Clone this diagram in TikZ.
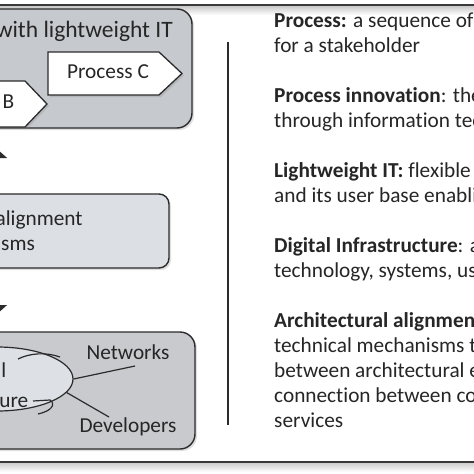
\documentclass[tikz,border=0pt]{standalone}
\usepackage{fontspec}
\setmainfont{Carlito}[Ligatures=NoCommon]
\usetikzlibrary{shapes.geometric,shadows,arrows.meta}
\definecolor{ink}{HTML}{262626}
\definecolor{edge}{HTML}{2B2B2B}
\definecolor{boxgray}{HTML}{C6C9CD}
\definecolor{boxlight}{HTML}{DCDFE4}
\definecolor{boxbottom}{HTML}{C8CACD}
\definecolor{ellfill}{HTML}{DDE0E5}
\definecolor{rule}{HTML}{3A3A3A}
\tikzset{
  base/.style={font=\fontsize{21.3}{25}\selectfont, text=ink, inner sep=0pt},
  groupbox/.style={draw=edge, line width=1.4pt, rounded corners=15pt,
     drop shadow={shadow xshift=2pt, shadow yshift=-2pt, opacity=0.25}},
  procbox/.style={draw=edge, line width=1.3pt, fill=white,
     drop shadow={shadow xshift=2pt, shadow yshift=-2pt, opacity=0.25}},
  defline/.style={base, anchor=base west},
  linkline/.style={draw=edge, line width=1.2pt},
  flowarrow/.style={draw=edge, line width=1.5pt, -{Triangle[width=20pt,length=9pt]}}
}
\begin{document}
\begin{tikzpicture}[x=1pt,y=-1pt]
\useasboundingbox (0,0) rectangle (474,474);
\clip (0,0) rectangle (474,474);
\fill[white] (0,0) rectangle (474,474);
% rules
\shade[top color=black!22, bottom color=white] (0,5.5) rectangle (474,15);
\draw[rule, line width=2.2pt] (0,4.6) -- (474,4.6);
\shade[top color=black!18, bottom color=white] (0,463) rectangle (474,472);
\draw[rule, line width=2.2pt] (0,462) -- (474,462);
% top group
\draw[groupbox, fill=boxgray] (-100,9) rectangle (192,128);
\node[base, font=\fontsize{23.5}{27}\selectfont, anchor=base east] (title) at (173,37) {with lightweight IT};
\draw[procbox] (48,52) -- (159,52) -- (182,73.5) -- (159,95) -- (48,95) -- cycle;
\node[base, anchor=base] (pc) at (108,78) {Process C};
\draw[procbox] (-60,81) -- (25,81) -- (47,104) -- (25,127) -- (-60,127) -- cycle;
\node[base, anchor=base west] (pb) at (2.5,108) {B};
% middle group
\draw[groupbox, rounded corners=10pt, fill=boxlight] (-100,194) rectangle (169,268);
\node[base, anchor=base] (mid1) at (-19,225) {Architectural alignment};
\node[base, anchor=base] (mid2) at (-19,250) {mechanisms};
% arrows
\coordinate (upstart) at (-3,194);
\coordinate (uptip) at (-3,149);
\coordinate (dnstart) at (-3,268);
\coordinate (dntip) at (-3,314);
\draw[flowarrow] (upstart) -- (uptip);
\draw[flowarrow] (dnstart) -- (dntip);
% bottom group
\draw[groupbox, fill=boxbottom] (-100,332) rectangle (195,449);
\node[ellipse, draw=edge, line width=1.2pt, fill=ellfill, minimum width=152pt, minimum height=64pt, inner sep=0pt] (infra) at (-3,379) {};
\draw[linkline] (18,359) .. controls (30,353) and (46,352) .. (60,357);
\draw[linkline] (33,401) -- (50,400) .. controls (56,404) and (52,411) .. (38,414);
\node[base, anchor=base east] (dig1) at (6.5,377) {Digital};
\node[base, anchor=base east] (dig2) at (28.5,407) {Infrastructure};
\coordinate (netend) at (135,366);
\coordinate (devend) at (109,417);
\draw[linkline] (infra.east) -- (netend);
\draw[linkline] (infra.-11) -- (devend);
\node[base, anchor=base] (networks) at (128,359) {Networks};
\node[base, anchor=base] (developers) at (128,432) {Developers};
% separator
\coordinate (septop) at (228,42);
\coordinate (sepbot) at (228,425);
\draw[edge, line width=1.3pt] (septop) -- (sepbot);
% definitions
\node[defline] (d1) at (274,27) {\textbf{Process:} a sequence of activities};
\node[defline] (d2) at (274,52) {for a stakeholder};
\node[defline] (d3) at (274,102) {\textbf{Process innovation}: the change};
\node[defline] (d4) at (274,127) {through information technology};
\node[defline] (d5) at (274,177) {\textbf{Lightweight IT:} flexible};
\node[defline] (d6) at (274,202) {and its user base enabling};
\node[defline] (d7) at (274,252) {\textbf{Digital Infrastructure}: a};
\node[defline] (d8) at (274,277) {technology, systems, users};
\node[defline] (d9) at (274,327) {\textbf{Architectural alignment}};
\node[defline] (d10) at (274,352) {technical mechanisms that};
\node[defline] (d11) at (274,377) {between architectural elements};
\node[defline] (d12) at (274,402) {connection between core};
\node[defline] (d13) at (274,427) {services};
\end{tikzpicture}
\end{document}
